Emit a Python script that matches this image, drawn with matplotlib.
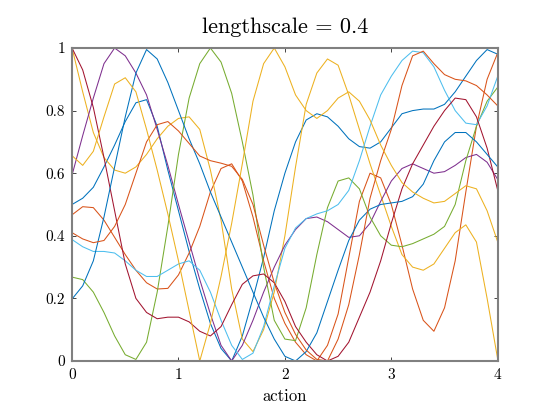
import numpy as np
import matplotlib
matplotlib.use("Agg")
import matplotlib.pyplot as plt

plt.rcParams['font.family'] = 'serif'
plt.rcParams['font.serif'] = ['cmr10']
plt.rcParams['mathtext.fontset'] = 'cm'
plt.rcParams['axes.formatter.use_mathtext'] = True

# sample grid along the action axis
action = np.linspace(0, 4, 41)

# GP samples (one list per curve)
blue_a = [0.50, 0.52, 0.555, 0.62, 0.69, 0.765, 0.825, 0.835, 0.75, 0.61,
          0.48, 0.35, 0.23, 0.12, 0.04, 0.0, 0.08, 0.20, 0.33, 0.48,
          0.60, 0.70, 0.77, 0.79, 0.78, 0.75, 0.71, 0.685, 0.68, 0.70,
          0.745, 0.79, 0.80, 0.805, 0.805, 0.82, 0.86, 0.91, 0.96, 0.995, 0.98]
orange_a = [0.467, 0.493, 0.49, 0.45, 0.395, 0.34, 0.29, 0.25, 0.23, 0.232,
            0.275, 0.345, 0.43, 0.54, 0.615, 0.63, 0.575, 0.46, 0.32, 0.20,
            0.12, 0.06, 0.02, 0.0, 0.05, 0.15, 0.33, 0.51, 0.60, 0.585,
            0.50, 0.37, 0.23, 0.13, 0.095, 0.17, 0.32, 0.54, 0.75, 0.90, 0.985]
yellow_a = [1.0, 0.86, 0.73, 0.65, 0.61, 0.60, 0.62, 0.66, 0.71, 0.75,
            0.775, 0.78, 0.74, 0.61, 0.45, 0.23, 0.07, 0.03, 0.10, 0.22,
            0.40, 0.62, 0.82, 0.92, 0.965, 0.945, 0.85, 0.74, 0.63, 0.53,
            0.43, 0.34, 0.30, 0.29, 0.31, 0.36, 0.41, 0.435, 0.38, 0.20, 0.005]
purple = [0.594, 0.72, 0.84, 0.95, 1.0, 0.975, 0.92, 0.85, 0.74, 0.625,
          0.50, 0.38, 0.26, 0.15, 0.05, 0.0, 0.05, 0.13, 0.22, 0.30,
          0.37, 0.42, 0.455, 0.46, 0.445, 0.42, 0.395, 0.40, 0.44, 0.51,
          0.575, 0.615, 0.63, 0.615, 0.60, 0.605, 0.625, 0.65, 0.66, 0.635, 0.58]
green = [0.268, 0.26, 0.22, 0.155, 0.08, 0.02, 0.005, 0.06, 0.22, 0.43,
         0.66, 0.84, 0.95, 1.0, 0.955, 0.855, 0.70, 0.53, 0.30, 0.13,
         0.07, 0.065, 0.17, 0.34, 0.49, 0.575, 0.585, 0.55, 0.46, 0.40,
         0.37, 0.365, 0.375, 0.39, 0.405, 0.43, 0.50, 0.64, 0.75, 0.83, 0.875]
light_blue = [0.388, 0.365, 0.35, 0.35, 0.345, 0.32, 0.29, 0.27, 0.27, 0.29,
              0.31, 0.32, 0.29, 0.22, 0.13, 0.05, 0.005, 0.025, 0.11, 0.24,
              0.36, 0.425, 0.455, 0.47, 0.48, 0.50, 0.545, 0.64, 0.75, 0.85,
              0.91, 0.96, 0.99, 0.985, 0.94, 0.865, 0.80, 0.76, 0.755, 0.815, 0.91]
dark_red = [1.0, 0.93, 0.81, 0.65, 0.48, 0.31, 0.20, 0.155, 0.135, 0.14,
            0.14, 0.125, 0.095, 0.08, 0.11, 0.18, 0.245, 0.272, 0.278, 0.25,
            0.19, 0.11, 0.06, 0.02, 0.0, 0.015, 0.06, 0.14, 0.22, 0.32,
            0.44, 0.55, 0.63, 0.69, 0.75, 0.80, 0.84, 0.835, 0.78, 0.68, 0.545]
blue_b = [0.198, 0.24, 0.32, 0.46, 0.62, 0.78, 0.92, 0.995, 0.965, 0.89,
          0.80, 0.71, 0.63, 0.54, 0.46, 0.38, 0.30, 0.22, 0.14, 0.07,
          0.015, 0.0, 0.03, 0.09, 0.19, 0.29, 0.385, 0.45, 0.485, 0.50,
          0.505, 0.51, 0.525, 0.565, 0.64, 0.70, 0.73, 0.73, 0.70, 0.66, 0.62]
orange_b = [0.41, 0.39, 0.378, 0.385, 0.43, 0.50, 0.60, 0.70, 0.755, 0.765,
            0.735, 0.695, 0.655, 0.64, 0.632, 0.622, 0.58, 0.50, 0.37, 0.25,
            0.155, 0.085, 0.035, 0.005, 0.0, 0.07, 0.18, 0.34, 0.52, 0.64,
            0.74, 0.88, 0.975, 0.99, 0.95, 0.915, 0.90, 0.895, 0.88, 0.85, 0.815]
yellow_b = [0.656, 0.625, 0.67, 0.78, 0.885, 0.905, 0.86, 0.74, 0.61, 0.47,
            0.32, 0.16, 0.0, 0.12, 0.27, 0.44, 0.63, 0.83, 0.95, 1.0,
            0.94, 0.85, 0.80, 0.775, 0.80, 0.84, 0.86, 0.83, 0.77, 0.69,
            0.625, 0.57, 0.54, 0.52, 0.505, 0.51, 0.535, 0.56, 0.55, 0.48, 0.38]

curves = [blue_a, orange_a, yellow_a, purple, green, light_blue, dark_red,
          blue_b, orange_b, yellow_b]
colors = ['#0072BD', '#D95319', '#EDB120', '#7E2F8E', '#77AC30', '#4DBEEE',
          '#A2142F']

fig = plt.figure(figsize=(5.5, 4.2), dpi=100)
ax = fig.add_axes([0.131, 0.1405, 0.774, 0.7452])

for i, c in enumerate(curves):
    ax.plot(action, c, color=colors[i % len(colors)], linewidth=0.75)

ax.set_xlim(0, 4)
ax.set_ylim(0, 1)
ax.set_xticks([0, 1, 2, 3, 4])
ax.set_xticklabels(['0', '1', '2', '3', '4'])
ax.set_yticks([0, 0.2, 0.4, 0.6, 0.8, 1])
ax.set_yticklabels(['0', '0.2', '0.4', '0.6', '0.8', '1'])
ax.tick_params(direction='in', top=True, right=True, length=3, width=0.6,
               color='#262626', labelsize=11, pad=5)
for s in ax.spines.values():
    s.set_color('#808080')
    s.set_linewidth(1.5)

ax.set_title('lengthscale = 0.4', fontsize=16, pad=11)
ax.set_xlabel('action', fontsize=12, labelpad=5)

fig.savefig('out.png', dpi=100)
